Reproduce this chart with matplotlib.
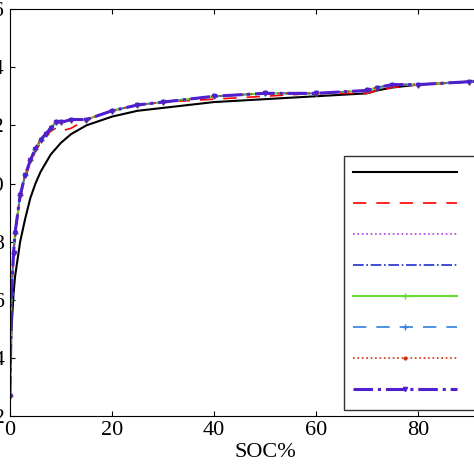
import matplotlib
matplotlib.use('Agg')
import matplotlib.pyplot as plt
import numpy as np

plt.rcParams['font.family'] = ['Liberation Serif', 'DejaVu Serif']
plt.rcParams['font.size'] = 16

soc = [0, 0.3, 0.7, 1, 2, 3, 4, 5, 6, 7, 8, 9, 10, 12, 15, 20, 25, 30, 40, 50, 60, 70, 72, 75, 80, 90, 100]
v_m10 = [2.30, 2.50, 2.62, 2.68, 2.80, 2.88, 2.95, 3.00, 3.04, 3.07, 3.10, 3.12, 3.14, 3.17, 3.20, 3.23, 3.25, 3.26, 3.28, 3.29, 3.30, 3.31, 3.32, 3.33, 3.34, 3.35, 3.37]
v_0 = [2.30, 2.62, 2.75, 2.82, 2.95, 3.02, 3.07, 3.11, 3.14, 3.16, 3.18, 3.19, 3.18, 3.19, 3.22, 3.25, 3.27, 3.28, 3.29, 3.30, 3.31, 3.31, 3.32, 3.33, 3.34, 3.35, 3.36]
v_warm = [2.27, 2.62, 2.76, 2.83, 2.96, 3.03, 3.08, 3.12, 3.15, 3.17, 3.19, 3.21, 3.21, 3.22, 3.22, 3.25, 3.27, 3.28, 3.30, 3.31, 3.31, 3.32, 3.33, 3.34, 3.34, 3.35, 3.36]
labels = ['-10', '0', '10', '20', '25', '30', '40', '50']

fig = plt.figure(figsize=(4.74, 4.74), dpi=100)
ax = fig.add_axes([0.021, 0.122, 1.076, 0.859])

ax.plot(soc, v_m10, color='black', lw=1.5, label=labels[0])
ax.plot(soc, v_0, color='red', lw=1.2, dashes=(8, 6), label=labels[1])
ax.plot(soc, v_warm, color='#b040e0', lw=1.2, ls=':', label=labels[2])
ax.plot(soc, v_warm, color='#2030d0', lw=1.2, ls='-.', label=labels[3])
ax.plot(soc, v_warm, color='#66dd33', lw=1.5, marker='+', ms=4, label=labels[4])
ax.plot(soc, v_warm, color='#3080e0', lw=1.2, dashes=(8, 6), marker='+', ms=4, label=labels[5])
ax.plot(soc, v_warm, color='#cc3311', lw=1.2, ls=':', marker='.', ms=4, label=labels[6])
ax.plot(soc, v_warm, color='#5020d0', lw=2.2, ls='-.', marker='v', ms=3, label=labels[7])

ax.set_xlim(0, 100)
ax.set_ylim(2.2, 3.6)
ax.set_xticks([0, 20, 40, 60, 80, 100])
ax.set_yticks(np.arange(2.2, 3.61, 0.2))
ax.set_yticklabels(['2.2', '2.4', '2.6', '2.8', '3.0', '3.2', '3.4', '3.6'])
ax.tick_params(direction='in', top=True, right=True)
ax.set_xlabel('SOC%', labelpad=2)
ax.legend(loc='lower right', bbox_to_anchor=(1.0, -0.01), fancybox=False, edgecolor='black',
          handlelength=5.0, labelspacing=0.55, fontsize=15)

fig.savefig('out.png', dpi=100)
